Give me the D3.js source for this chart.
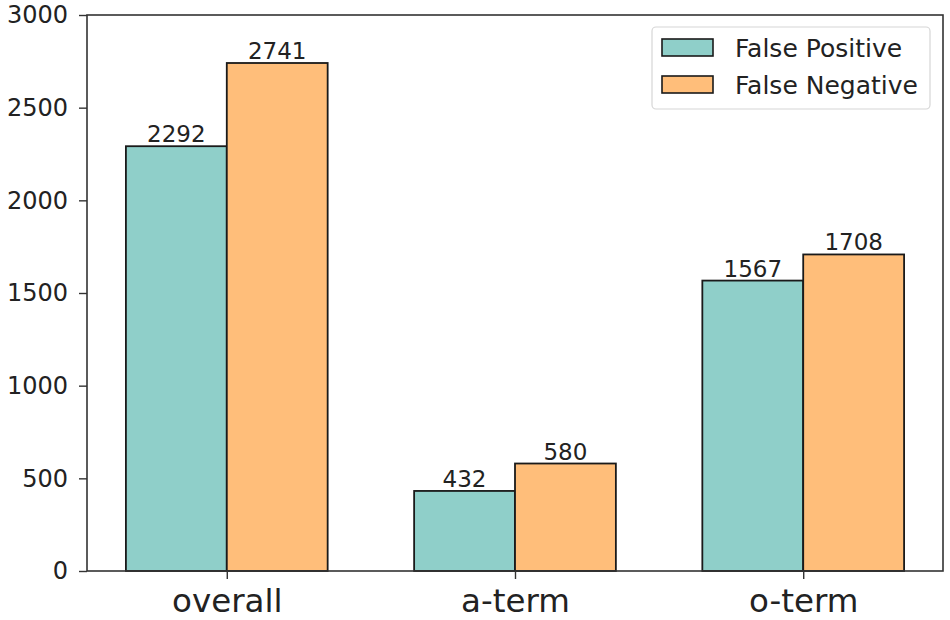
<!DOCTYPE html>
<html>
<head>
<meta charset="utf-8">
<script src="https://cdn.jsdelivr.net/npm/d3@7"></script>
<style>
  body { margin: 0; background: #fff; }
  text { font-family: "DejaVu Sans", sans-serif; fill: #222; }
</style>
</head>
<body>
<svg id="chart" width="950" height="620"></svg>
<script>
// data
var categories = ["overall", "a-term", "o-term"];
var seriesNames = ["False Positive", "False Negative"];
var falsePositive = [2292, 432, 1567];
var falseNegative = [2741, 580, 1708];
var yTicks = [0, 500, 1000, 1500, 2000, 2500, 3000];
var colors = ["#8fcfc9", "#ffbe7a"];

var svg = d3.select("#chart");
// plot box (window.top is read-only, so no "top" here)
var plotL = 87, plotR = 943, plotT = 15, plotB = 571;

// groups at 0,1,2, bar width 0.35, xlim -0.485..2.485
var x = d3.scaleLinear().domain([-0.485, 2.485]).range([plotL, plotR]);
var y = d3.scaleLinear().domain([0, 3000]).range([plotB, plotT]);
var bw = 0.35;

var series = [falsePositive, falseNegative];

series.forEach(function(vals, s){
    svg.append("g")
        .selectAll("rect")
        .data(vals)
        .enter()
        .append("rect")
        .attr("x", function(d, i){ return x(i + (s - 1) * bw); })
        .attr("y", function(d){ return y(d); })
        .attr("width", x(bw) - x(0))
        .attr("height", function(d){ return y(0) - y(d); })
        .attr("fill", colors[s])
        .attr("stroke", "#1a1a1a")
        .attr("stroke-width", 1.8);

    svg.append("g")
        .selectAll("text")
        .data(vals)
        .enter()
        .append("text")
        .attr("x", function(d, i){ return x(i + (s - 0.5) * bw); })
        .attr("y", function(d){ return y(d) - 4; })
        .attr("text-anchor", "middle")
        .style("font-size", "23px")
        .text(function(d){ return d; });
});

// frame
svg.append("rect")
    .attr("x", plotL).attr("y", plotT)
    .attr("width", plotR - plotL).attr("height", plotB - plotT)
    .attr("fill", "none")
    .attr("stroke", "#333")
    .attr("stroke-width", 1.6);

// y axis
var yAxis = svg.append("g")
    .attr("transform", "translate(" + plotL + ",0)")
    .call(d3.axisLeft(y).tickValues(yTicks).tickFormat(d3.format("d")).tickSize(8).tickPadding(11));
yAxis.select(".domain").remove();
yAxis.selectAll("line").attr("stroke", "#333").attr("stroke-width", 1.4);
yAxis.selectAll("text").style("font-size", "24px").style("font-family", "DejaVu Sans").attr("fill", "#222");

// x axis
var xAxis = svg.append("g")
    .attr("transform", "translate(0," + plotB + ")")
    .call(d3.axisBottom(x).tickValues([0, 1, 2]).tickFormat(function(d){ return categories[d]; }).tickSize(8).tickPadding(10));
xAxis.select(".domain").remove();
xAxis.selectAll("line").attr("stroke", "#333").attr("stroke-width", 1.4);
xAxis.selectAll("text").style("font-size", "32.5px").style("font-family", "DejaVu Sans").attr("fill", "#222");

// legend
var lg = svg.append("g");
lg.append("rect")
    .attr("x", 652).attr("y", 27)
    .attr("width", 278).attr("height", 82)
    .attr("rx", 4)
    .attr("fill", "#fff")
    .attr("stroke", "#d6d6d6")
    .attr("stroke-width", 1.2);
seriesNames.forEach(function(name, i){
    lg.append("rect")
        .attr("x", 662).attr("y", 39 + i * 37)
        .attr("width", 51).attr("height", 17)
        .attr("fill", colors[i])
        .attr("stroke", "#1a1a1a")
        .attr("stroke-width", 1.6);
    lg.append("text")
        .attr("x", 735).attr("y", 57 + i * 37)
        .style("font-size", "25px")
        .text(name);
});
</script>
</body>
</html>
